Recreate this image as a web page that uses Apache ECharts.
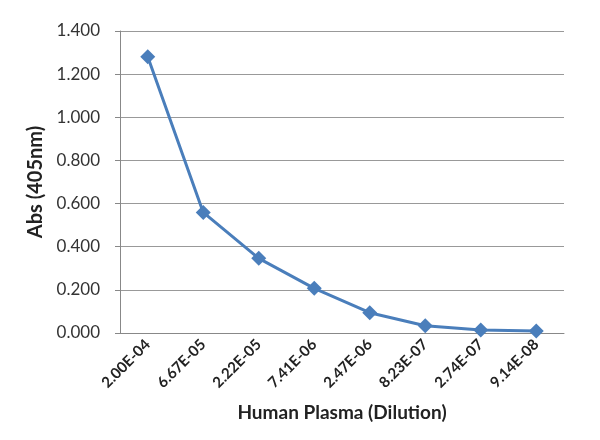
<!DOCTYPE html>
<html>
<head>
<meta charset="utf-8">
<script src="https://cdn.jsdelivr.net/npm/echarts@6/dist/echarts.min.js"></script>
<style>
html, body { margin: 0; padding: 0; background: #fff; }
#chart { width: 600px; height: 440px; }
</style>
</head>
<body>
<div id="chart"></div>
<script>
// dilutions on the x axis
const dilutions = ["2.00E-04", "6.67E-05", "2.22E-05", "7.41E-06", "2.47E-06", "8.23E-07", "2.74E-07", "9.14E-08"];
// absorbance readings
const absValues = [1.281, 0.559, 0.346, 0.207, 0.094, 0.034, 0.014, 0.009];

const font = "Lato, 'Open Sans', sans-serif";

const chart = echarts.init(document.getElementById("chart"));
chart.setOption({
  animation: false,
  grid: { left: 120, right: 36, top: 31, bottom: 107 },
  xAxis: {
    type: "category",
    data: dilutions,
    name: "Human Plasma (Dilution)",
    nameLocation: "middle",
    nameGap: 70,
    nameTextStyle: { fontFamily: font, fontSize: 19, fontWeight: "bold", color: "#222" },
    axisLine: { lineStyle: { color: "#888", width: 1 } },
    axisTick: { length: 5, lineStyle: { color: "#888" } },
    axisLabel: { rotate: 45, fontFamily: font, fontSize: 15, fontWeight: "bold", color: "#222", margin: 9 }
  },
  yAxis: {
    type: "value",
    min: 0,
    max: 1.4,
    interval: 0.2,
    name: "Abs (405nm)",
    nameLocation: "middle",
    nameGap: 74,
    nameTextStyle: { fontFamily: font, fontSize: 20, fontWeight: "bold", color: "#222" },
    axisLine: { show: true, lineStyle: { color: "#888", width: 1 } },
    axisTick: { show: true, length: 5, lineStyle: { color: "#888" } },
    axisLabel: { fontFamily: font, fontSize: 17, color: "#333", margin: 20, formatter: v => v.toFixed(3) },
    splitLine: { lineStyle: { color: "#999", width: 1 } }
  },
  series: [{
    type: "line",
    data: absValues,
    symbol: "diamond",
    symbolSize: 15,
    lineStyle: { color: "#4a7ebb", width: 3 },
    itemStyle: { color: "#4a7ebb" }
  }]
});
</script>
</body>
</html>
